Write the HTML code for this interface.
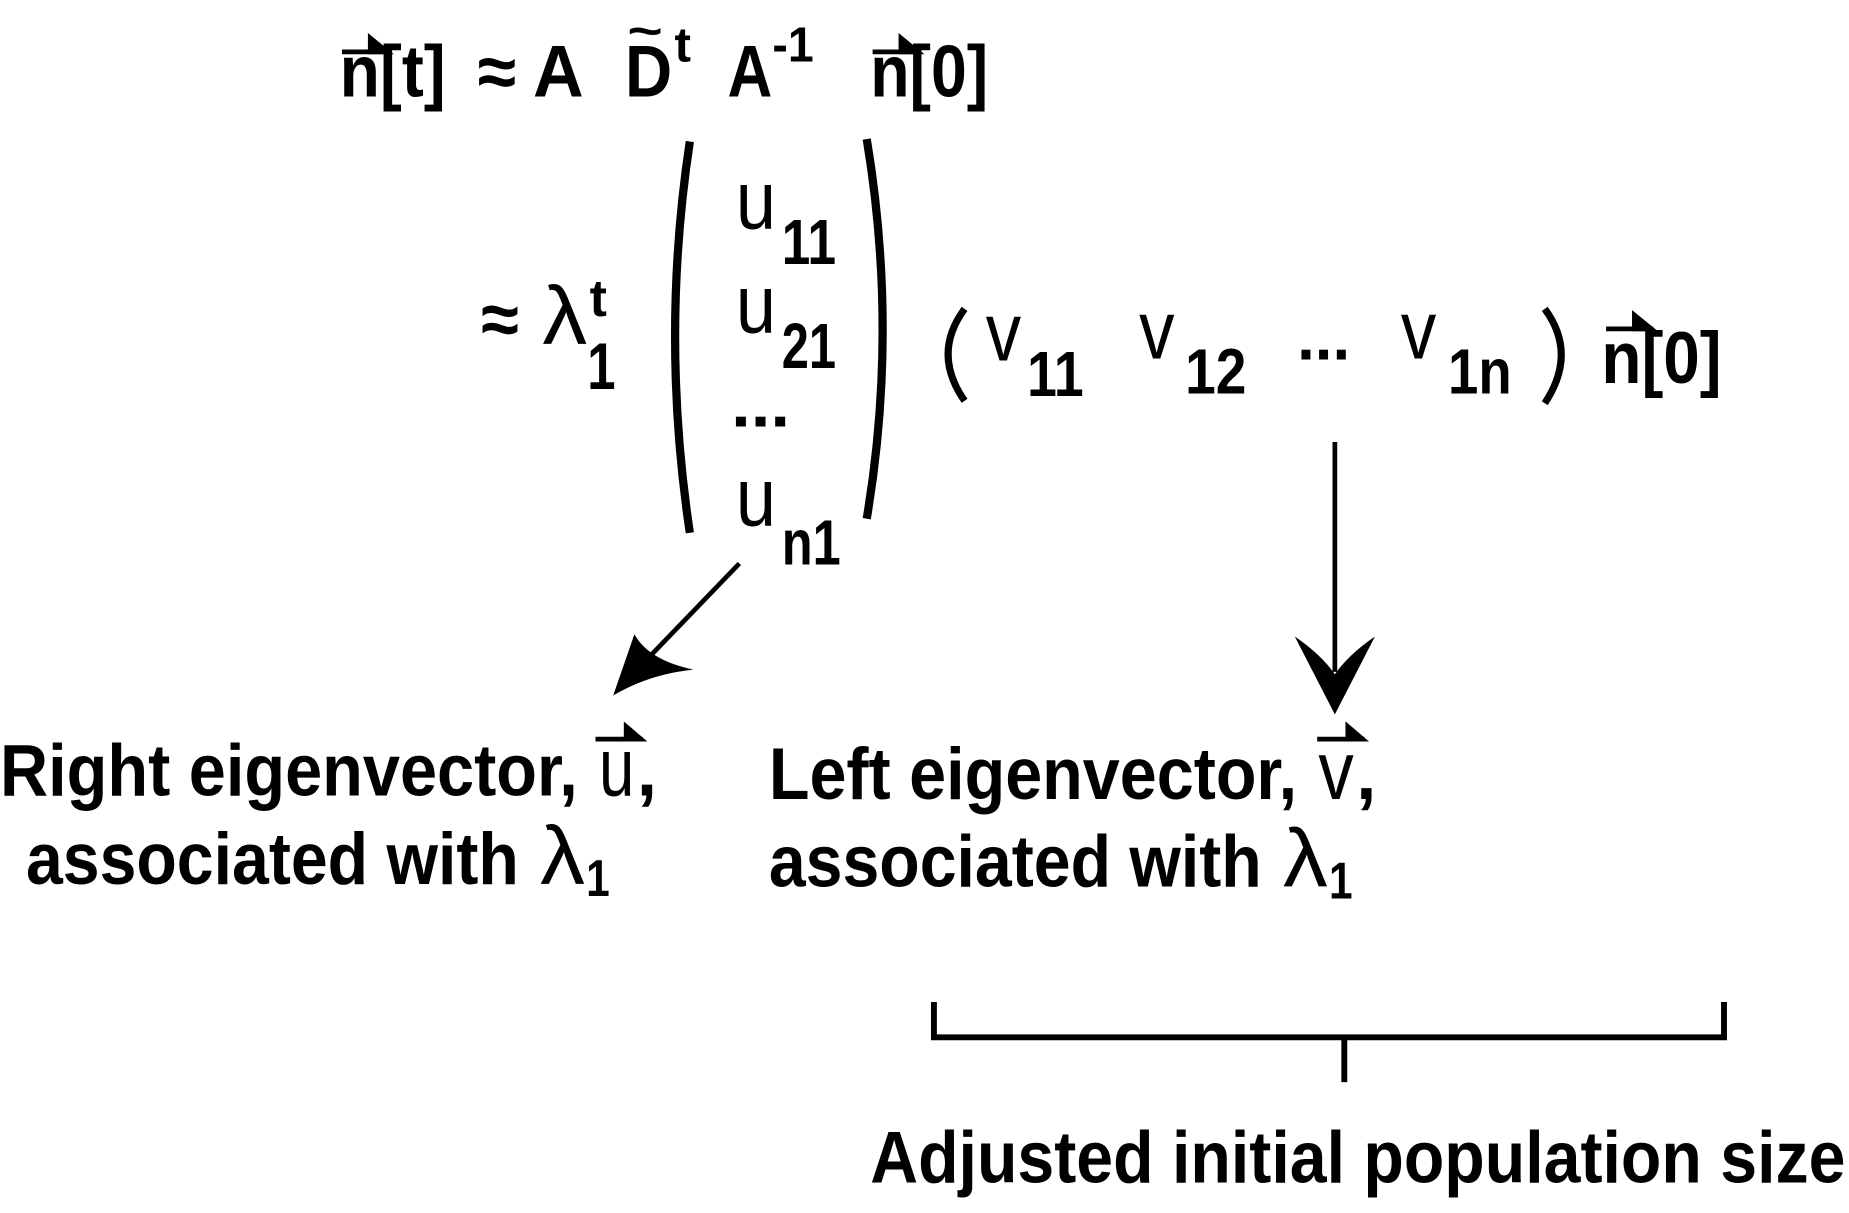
<!DOCTYPE html>
<html><head><meta charset="utf-8"><style>
html,body{margin:0;padding:0;background:#fff;}
svg{display:block;}
text{font-family:"Liberation Sans Narrow","Liberation Sans",sans-serif;font-weight:bold;fill:#000;}
.r{font-weight:normal;}
</style></head><body>
<svg width="1849" height="1213" viewBox="0 0 1568 1029" preserveAspectRatio="none" xmlns="http://www.w3.org/2000/svg">
<!-- top line -->
<text x="288" y="82" font-size="62" textLength="90" lengthAdjust="spacingAndGlyphs">n[t]</text>
<text x="405" y="82" font-size="62" textLength="90" lengthAdjust="spacingAndGlyphs">≈ A</text>
<text x="530" y="82" font-size="62" textLength="40" lengthAdjust="spacingAndGlyphs">D</text>
<text x="532" y="40" font-size="40" textLength="30" lengthAdjust="spacingAndGlyphs">~</text>
<text x="572" y="52" font-size="42">t</text>
<text x="617" y="82" font-size="62" textLength="38" lengthAdjust="spacingAndGlyphs">A</text>
<text x="655" y="52" font-size="42" textLength="35" lengthAdjust="spacingAndGlyphs">-1</text>
<text x="738" y="82" font-size="62" textLength="100" lengthAdjust="spacingAndGlyphs">n[0]</text>
<g stroke="#000" stroke-width="4">
<line x1="290" y1="44" x2="330" y2="44"/><line x1="740" y1="44" x2="780" y2="44"/>
<line x1="1362" y1="279" x2="1402" y2="279"/>
<line x1="505" y1="627" x2="545" y2="627"/><line x1="1117" y1="627" x2="1157" y2="627"/>
</g>
<g fill="#000">
<path d="M312,28 L334,46 L312,46z"/><path d="M762,28 L784,46 L762,46z"/>
<path d="M1384,263 L1406,281 L1384,281z"/>
<path d="M529,612 L549,629 L529,629z"/><path d="M1141,612 L1161,629 L1141,629z"/>
</g>
<!-- big parens -->
<path d="M585,120 Q560,285 585,452" fill="none" stroke="#000" stroke-width="7"/>
<path d="M735,118 Q762,280 735,440" fill="none" stroke="#000" stroke-width="7"/>
<!-- lambda -->
<text x="408" y="292" font-size="62" textLength="32" lengthAdjust="spacingAndGlyphs">≈</text>
<text class="r" x="460" y="292" font-size="70" textLength="38" lengthAdjust="spacingAndGlyphs">λ</text>
<text x="500" y="268" font-size="44">t</text>
<text x="498" y="330" font-size="56" textLength="24" lengthAdjust="spacingAndGlyphs">1</text>
<!-- u column -->
<text class="r" x="624" y="194" font-size="70" textLength="34" lengthAdjust="spacingAndGlyphs">u</text><text x="663" y="224" font-size="54" textLength="46" lengthAdjust="spacingAndGlyphs">11</text>
<text class="r" x="624" y="282" font-size="70" textLength="34" lengthAdjust="spacingAndGlyphs">u</text><text x="663" y="312" font-size="54" textLength="46" lengthAdjust="spacingAndGlyphs">21</text>
<text x="620" y="362" font-size="56" textLength="50" lengthAdjust="spacingAndGlyphs">...</text>
<text class="r" x="624" y="446" font-size="70" textLength="34" lengthAdjust="spacingAndGlyphs">u</text><text x="663" y="479" font-size="54" textLength="50" lengthAdjust="spacingAndGlyphs">n1</text>
<!-- row vector -->
<path d="M818,262 Q790,300 818,340" fill="none" stroke="#000" stroke-width="6"/>
<path d="M1310,262 Q1338,300 1310,342" fill="none" stroke="#000" stroke-width="6"/>
<text class="r" x="836" y="306" font-size="70" textLength="30" lengthAdjust="spacingAndGlyphs">v</text><text x="871" y="336" font-size="54" textLength="48" lengthAdjust="spacingAndGlyphs">11</text>
<text class="r" x="966" y="304" font-size="70" textLength="30" lengthAdjust="spacingAndGlyphs">v</text><text x="1005" y="334" font-size="54" textLength="52" lengthAdjust="spacingAndGlyphs">12</text>
<text x="1100" y="305" font-size="56" textLength="45" lengthAdjust="spacingAndGlyphs">...</text>
<text class="r" x="1188" y="304" font-size="70" textLength="30" lengthAdjust="spacingAndGlyphs">v</text><text x="1228" y="334" font-size="54" textLength="54" lengthAdjust="spacingAndGlyphs">1n</text>
<text x="1358" y="325" font-size="62" textLength="102" lengthAdjust="spacingAndGlyphs">n[0]</text>
<!-- arrows -->
<line x1="627" y1="478" x2="548" y2="560" stroke="#000" stroke-width="4"/>
<path d="M520,590 L538,538 Q550,560 588,568 Q550,572 520,590z" fill="#000"/>
<line x1="1132" y1="375" x2="1132" y2="570" stroke="#000" stroke-width="4"/>
<path d="M1132,606 L1098,540 Q1120,555 1132,572 Q1144,555 1166,540z" fill="#000"/>
<!-- labels -->
<text x="0" y="675" font-size="62" textLength="490" lengthAdjust="spacingAndGlyphs">Right eigenvector,</text>
<text class="r" x="508" y="675" font-size="70" textLength="30" lengthAdjust="spacingAndGlyphs">u</text><text x="540" y="675" font-size="62">,</text>
<text x="22" y="750" font-size="62" textLength="418" lengthAdjust="spacingAndGlyphs">associated with</text>
<text class="r" x="458" y="750" font-size="70" textLength="38" lengthAdjust="spacingAndGlyphs">λ</text><text x="497" y="760" font-size="44" textLength="20" lengthAdjust="spacingAndGlyphs">1</text>
<text x="652" y="678" font-size="62" textLength="448" lengthAdjust="spacingAndGlyphs">Left eigenvector,</text>
<text class="r" x="1118" y="678" font-size="70" textLength="30" lengthAdjust="spacingAndGlyphs">v</text><text x="1150" y="678" font-size="62">,</text>
<text x="652" y="752" font-size="62" textLength="418" lengthAdjust="spacingAndGlyphs">associated with</text>
<text class="r" x="1088" y="752" font-size="70" textLength="38" lengthAdjust="spacingAndGlyphs">λ</text><text x="1127" y="762" font-size="44" textLength="20" lengthAdjust="spacingAndGlyphs">1</text>
<!-- bracket -->
<path d="M792,850 V880 H1462 V850 M1140,880 V918" fill="none" stroke="#000" stroke-width="5"/>
<text x="738" y="1003" font-size="62" textLength="827" lengthAdjust="spacingAndGlyphs">Adjusted initial population size</text>
</svg>
</body></html>
